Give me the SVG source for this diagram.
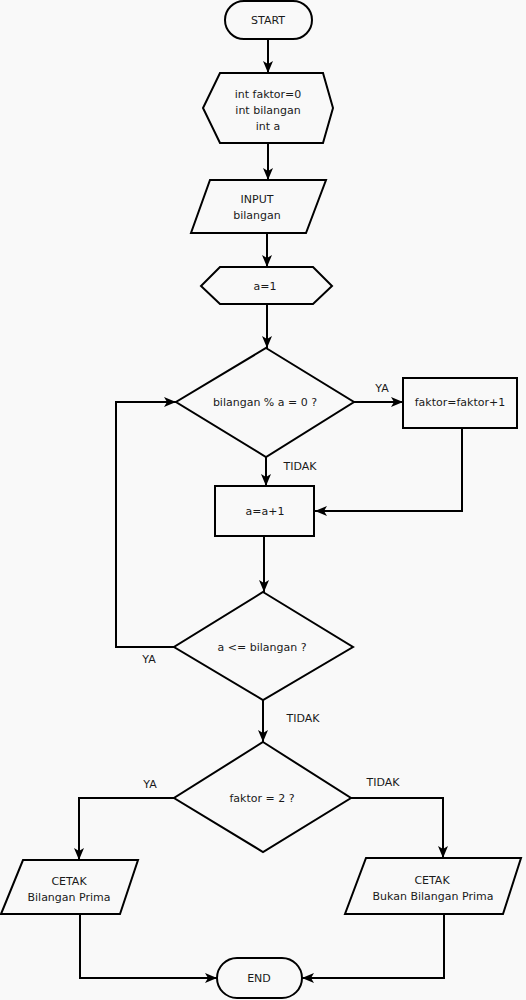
<svg xmlns="http://www.w3.org/2000/svg" width="526" height="1000" viewBox="0 0 526 1000">
<defs>
<style>
.shape{fill:#f9f9f9;stroke:#000;stroke-width:2}
.conn{fill:none;stroke:#000;stroke-width:2}
text{font-family:"DejaVu Sans","Liberation Sans",sans-serif;font-size:11px;fill:#1a1a1a;text-anchor:middle}
</style>
<marker id="arr" viewBox="0 0 12 10" refX="12" refY="5" markerWidth="12" markerHeight="10" markerUnits="userSpaceOnUse" orient="auto">
<path d="M0,0 L12,5 L0,10 L3,5 Z" fill="#000"/>
</marker>
</defs>
<rect width="526" height="1000" fill="#f9f9f9"/>
<g id="connectors">
<path class="conn" d="M268,39 V73" marker-end="url(#arr)"/>
<path class="conn" d="M268,143 V180" marker-end="url(#arr)"/>
<path class="conn" d="M267,233 V267" marker-end="url(#arr)"/>
<path class="conn" d="M267,304 V348" marker-end="url(#arr)"/>
<path class="conn" d="M354,402 H403" marker-end="url(#arr)"/>
<path class="conn" d="M266,457 V486" marker-end="url(#arr)"/>
<path class="conn" d="M462,428 V511 H315" marker-end="url(#arr)"/>
<path class="conn" d="M264,536 V592" marker-end="url(#arr)"/>
<path class="conn" d="M174,647 H116 V402 H176" marker-end="url(#arr)"/>
<path class="conn" d="M263,700 V742" marker-end="url(#arr)"/>
<path class="conn" d="M174,798 H79 V860" marker-end="url(#arr)"/>
<path class="conn" d="M351,798 H443 V858" marker-end="url(#arr)"/>
<path class="conn" d="M80,914 V978 H217" marker-end="url(#arr)"/>
<path class="conn" d="M444,914 V978 H302" marker-end="url(#arr)"/>
<text x="382" y="392">YA</text>
<text x="300" y="470">TIDAK</text>
<text x="149" y="663">YA</text>
<text x="303" y="722">TIDAK</text>
<text x="150" y="788">YA</text>
<text x="383" y="786">TIDAK</text>
</g>
<g id="start">
<rect class="shape" x="225" y="1" width="87" height="38" rx="19"/>
<text x="268" y="24">START</text>
</g>
<g id="declare">
<polygon class="shape" points="220,73 323,73 333,108 323,143 220,143 203,108"/>
<text x="268" y="98">int faktor=0</text>
<text x="268" y="114">int bilangan</text>
<text x="268" y="130">int a</text>
</g>
<g id="input">
<polygon class="shape" points="210,180 326,180 306,233 191,233"/>
<text x="257" y="203">INPUT</text>
<text x="257" y="219">bilangan</text>
</g>
<g id="init-a">
<polygon class="shape" points="220,267 313,267 332,286 313,304 220,304 201,286"/>
<text x="265" y="290">a=1</text>
</g>
<g id="cond-mod">
<polygon class="shape" points="266,348 354,402 266,457 176,402"/>
<text x="265" y="406">bilangan % a = 0 ?</text>
</g>
<g id="inc-faktor">
<rect class="shape" x="403" y="378" width="114" height="50"/>
<text x="460" y="406">faktor=faktor+1</text>
</g>
<g id="inc-a">
<rect class="shape" x="215" y="486" width="99" height="50"/>
<text x="265" y="515">a=a+1</text>
</g>
<g id="cond-loop">
<polygon class="shape" points="263,592 353,647 263,700 174,647"/>
<text x="262" y="651">a &lt;= bilangan ?</text>
</g>
<g id="cond-prime">
<polygon class="shape" points="263,742 351,798 263,852 174,798"/>
<text x="262" y="802">faktor = 2 ?</text>
</g>
<g id="out-prime">
<polygon class="shape" points="23,860 138,860 120,914 1,914"/>
<text x="69" y="885">CETAK</text>
<text x="69" y="901">Bilangan Prima</text>
</g>
<g id="out-notprime">
<polygon class="shape" points="366,858 521,858 503,914 345,914"/>
<text x="432" y="884">CETAK</text>
<text x="433" y="900">Bukan Bilangan Prima</text>
</g>
<g id="end">
<rect class="shape" x="217" y="958" width="85" height="40" rx="20"/>
<text x="259" y="982">END</text>
</g>
</svg>
